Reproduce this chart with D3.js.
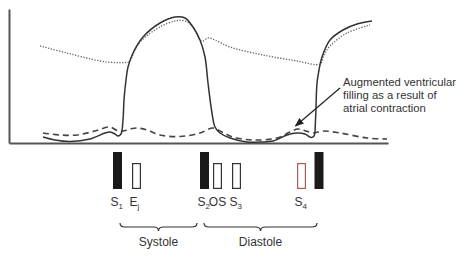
<!DOCTYPE html>
<html><head><meta charset="utf-8">
<script src="https://cdn.jsdelivr.net/npm/d3@7"></script>
<style>body{margin:0;background:#fff}svg{display:block}text{font-family:"Liberation Sans",Arial,sans-serif}</style>
</head><body><svg id="c" width="474" height="258"></svg>
<script>
// time in ms, pressure in mmHg
const lvTime = [136,184,244,324,384,404,424,436,448,456,460,468,476,496,536,604,664,704,736,764,784,796,812,824,844,884,952,1012,1056,1112,1152,1184,1208,1220,1226,1232,1240,1252,1284,1336,1392,1452];
const lvPressure = [6,3,1.5,4,10,11,9,7,9,23,43,63,76,90,106,120,126,125,116,103,86,60,30,16,10,5,1,1,2,8,10,9,5.5,7,23,60,73,86,103,113,119,122];
const laTime = [136,204,272,344,404,436,456,484,512,552,604,684,764,816,852,896,976,1072,1124,1156,1188,1216,1256,1324,1432,1512];
const laPressure = [10,8,8,12,16,12,12,14,15,13,8,6.5,10,15,11,6,3,5,11,14,12,10,12,10,5,4];
const aoTime = [124,232,364,424,464,484,504,532,604,664,704,736,764,776,796,824,884,1016,1152,1244,1260,1284,1352,1444];
const aoPressure = [97,90,82,80.5,80.5,82,93,103,116,122,122,116,103,102,105,103,96,88,82,79,88,97,110,118];
const soundTime = [434,510,782,834,910,1170,1240];
const soundName = ["S","E","S","OS","S","S",""];
const soundSub = ["1","j","2","","3","4",""];
const soundKind = ["loud","soft","loud","soft","soft","atrial","loud"];
const phaseName = ["Systole","Diastole"];
const phaseStart = [444,780];
const phaseEnd = [752,1232];
const noteLines = ["Augmented ventricular","filling as a result of","atrial contraction"];
const noteAnchor = [1336,57];
const arrowFrom = [1324,55];
const arrowTo = [1146,17];

const svg = d3.select("#c");
const x = d3.scaleLinear().domain([0,1516]).range([9,388]);
const y = d3.scaleLinear().domain([0,134]).range([143,9]);

// axes
svg.append("g").attr("transform","translate(0,143)")
  .call(d3.axisBottom(x).ticks(0).tickSizeOuter(0))
  .call(g=>g.select(".domain").attr("stroke","#555").attr("stroke-width",2));
svg.append("g").attr("transform","translate(9,0)")
  .call(d3.axisLeft(y).ticks(0).tickSizeOuter(0))
  .call(g=>g.select(".domain").attr("stroke","#555").attr("stroke-width",2));

const line = d3.line().x(d=>x(d[0])).y(d=>y(d[1])).curve(d3.curveCatmullRom.alpha(0.5));
const zip = (a,b)=>a.map((v,i)=>[v,b[i]]);

svg.append("path").attr("d",line(zip(aoTime,aoPressure))).attr("fill","none")
  .attr("stroke","#666").attr("stroke-width",1.3).attr("stroke-dasharray","1.3,1.5");
svg.append("path").attr("d",line(zip(laTime,laPressure))).attr("fill","none")
  .attr("stroke","#444").attr("stroke-width",1.6).attr("stroke-dasharray","6,4");
svg.append("path").attr("d",line(zip(lvTime,lvPressure))).attr("fill","none")
  .attr("stroke","#333").attr("stroke-width",1.5);

// annotation
const t = svg.append("text").attr("x",x(noteAnchor[0])).attr("y",y(noteAnchor[1]))
  .attr("font-size",11.3).attr("fill","#333");
noteLines.forEach((s,i)=>t.append("tspan").attr("x",x(noteAnchor[0])).attr("dy",i?13:0).text(s));
svg.append("defs").append("marker").attr("id","ah").attr("viewBox","0 0 10 10")
  .attr("refX",9).attr("refY",5).attr("markerWidth",9).attr("markerHeight",9)
  .attr("markerUnits","userSpaceOnUse").attr("orient","auto")
  .append("path").attr("d","M0,1 L10,5 L0,9 Z").attr("fill","#222");
svg.append("line").attr("x1",x(arrowFrom[0])).attr("y1",y(arrowFrom[1]))
  .attr("x2",x(arrowTo[0])).attr("y2",y(arrowTo[1]))
  .attr("stroke","#222").attr("stroke-width",1.2).attr("marker-end","url(#ah)");

// heart sounds
const bw = 9;
soundTime.forEach((tm,i)=>{
  const k = soundKind[i];
  const top = k==="loud"?152:163;
  const g = svg.append("rect").attr("x",x(tm)-bw/2).attr("y",top).attr("width",bw).attr("height",189-top);
  if(k==="loud") g.attr("fill","#1a1a1a");
  else g.attr("fill","#fff").attr("stroke",k==="atrial"?"#b05a5a":"#333").attr("stroke-width",1.2)
        .attr("x",x(tm)-bw/2+0.6).attr("y",top+0.6).attr("width",bw-1.2).attr("height",189-top-1.2);
  if(soundName[i]){
    const hasSub = !!soundSub[i];
    const tx = svg.append("text").attr("x",hasSub ? x(tm)-7 : x(tm)).attr("y",206)
      .attr("text-anchor",hasSub?"start":"middle")
      .attr("font-size",12).attr("fill","#333");
    tx.append("tspan").text(soundName[i]);
    if(hasSub) tx.append("tspan").attr("font-size",8).attr("dy",3).text(soundSub[i]);
  }
});

// braces
function brace(x1,x2,yt,h){
  const xm=(x1+x2)/2, r=5, ym=yt+h/2;
  return `M${x1},${yt} Q${x1},${ym} ${x1+r},${ym} L${xm-r},${ym} Q${xm},${ym} ${xm},${yt+h} Q${xm},${ym} ${xm+r},${ym} L${x2-r},${ym} Q${x2},${ym} ${x2},${yt}`;
}
phaseName.forEach((n,i)=>{
  const a=x(phaseStart[i]), b=x(phaseEnd[i]);
  svg.append("path").attr("d",brace(a,b,223,8)).attr("fill","none").attr("stroke","#333").attr("stroke-width",1.2);
  svg.append("text").attr("x",(a+b)/2).attr("y",246).attr("text-anchor","middle")
    .attr("font-size",12).attr("fill","#333").text(n);
});
</script></body></html>
